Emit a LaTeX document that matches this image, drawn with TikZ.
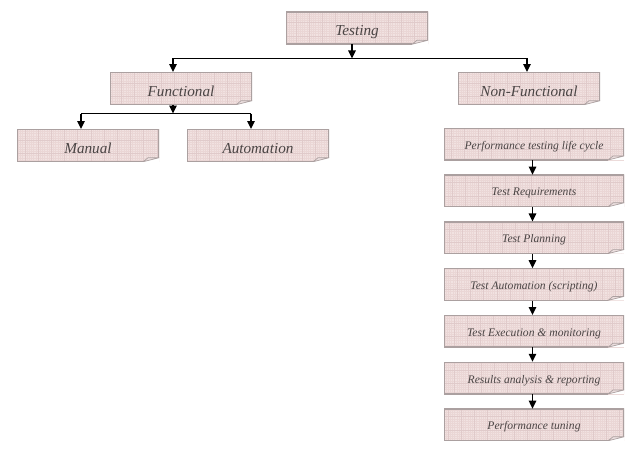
\documentclass[tikz,border=0pt]{standalone}
\usepackage{fontspec}
\setmainfont{Liberation Serif}
\usetikzlibrary{positioning,arrows.meta}
\definecolor{notefill}{HTML}{F1E2E1}
\definecolor{notegrid}{HTML}{EAD6D5}
\definecolor{notecoarse}{HTML}{E0CACA}
\definecolor{noteedge}{HTML}{ABA0A0}
\definecolor{notetext}{HTML}{4A4444}
\tikzset{
    notebox/.style={rectangle,inner sep=0pt,text=notetext,align=center,
        path picture={
            \fill [notefill] (path picture bounding box.south west) rectangle (path picture bounding box.north east);
            \draw [notegrid,line width=.3pt,step=2.2pt] (path picture bounding box.south west) grid (path picture bounding box.north east);
            \draw [notecoarse,line width=.3pt,step=13.2pt] (path picture bounding box.south west) grid (path picture bounding box.north east);
            \fill [white] ([shift={(-16pt,0pt)}]path picture bounding box.south east) -- ([shift={(0pt,4pt)}]path picture bounding box.south east) -- (path picture bounding box.south east) -- cycle;
            \fill [notecoarse!60!white,draw=noteedge,line width=.7pt] ([shift={(-16pt,0pt)}]path picture bounding box.south east) -- ([shift={(-11pt,4pt)}]path picture bounding box.south east) -- ([shift={(0pt,4pt)}]path picture bounding box.south east) -- cycle;
            \draw [noteedge,line width=1.8pt] ([shift={(-16pt,0pt)}]path picture bounding box.south east) -- (path picture bounding box.south west) -- (path picture bounding box.north west) -- (path picture bounding box.north east) -- ([shift={(0pt,4pt)}]path picture bounding box.south east);
        }},
    bigbox/.style={notebox,minimum width=142pt,text height=24pt,text depth=8.5pt,font=\fontsize{15.2}{17}\selectfont\itshape},
    stepbox/.style={notebox,minimum width=180pt,text height=21pt,text depth=11pt,font=\fontsize{11.6}{13}\selectfont\itshape},
    link/.style={black,line width=1pt},
    arrow/.style={black,line width=1.4pt,-{Triangle[length=8pt,width=7.5pt]}}
}
\begin{document}
\begin{tikzpicture}[x=1pt,y=-1pt]
    \useasboundingbox (0,0) rectangle (640,452);
    % upper tree
    \node (testing) [bigbox] at (357,28) {Testing};
    \node (functional) [bigbox] at (181,88.5) {Functional};
    \node (nonfunctional) [bigbox] at (529,88.5) {Non-Functional};
    \node (manual) [bigbox] at (88,145.5) {Manual};
    \node (automation) [bigbox] at (258,145.5) {Automation};
    % lower chain
    \node (lifecycle) [stepbox] at (534,144) {Performance testing life cycle};
    \node (requirements) [stepbox,below=14.4pt of lifecycle] {Test Requirements};
    \node (planning) [stepbox,below=14.4pt of requirements] {Test Planning};
    \node (scripting) [stepbox,below=14.4pt of planning] {Test Automation (scripting)};
    \node (execution) [stepbox,below=14.4pt of scripting] {Test Execution \& monitoring};
    \node (results) [stepbox,below=14.4pt of execution] {Results analysis \& reporting};
    \node (tuning) [stepbox,below=14.4pt of results] {Performance tuning};
    % buses
    \coordinate (topleft) at (173,58.5);
    \coordinate (topright) at (527,58.5);
    \coordinate (topmid) at (352,58.5);
    \coordinate (midleft) at (81,113.5);
    \coordinate (midright) at (251,113.5);
    \coordinate (midmid) at (173,113.5);
    \draw [link] (topleft) -- (topright);
    \draw [link] (midleft) -- (midright);
    \draw [arrow] (testing.south -| topmid) -- (topmid);
    \draw [arrow] (topleft) -- (functional.north -| topleft);
    \draw [arrow] (topright) -- (nonfunctional.north -| topright);
    \draw [arrow] (functional.south -| midmid) -- (midmid);
    \draw [arrow] (midleft) -- (manual.north -| midleft);
    \draw [arrow] (midright) -- (automation.north -| midright);
    \draw [arrow] ([xshift=-1.5pt]lifecycle.south) -- ([xshift=-1.5pt]requirements.north);
    \draw [arrow] ([xshift=-1.5pt]requirements.south) -- ([xshift=-1.5pt]planning.north);
    \draw [arrow] ([xshift=-1.5pt]planning.south) -- ([xshift=-1.5pt]scripting.north);
    \draw [arrow] ([xshift=-1.5pt]scripting.south) -- ([xshift=-1.5pt]execution.north);
    \draw [arrow] ([xshift=-1.5pt]execution.south) -- ([xshift=-1.5pt]results.north);
    \draw [arrow] ([xshift=-1.5pt]results.south) -- ([xshift=-1.5pt]tuning.north);
\end{tikzpicture}
\end{document}
